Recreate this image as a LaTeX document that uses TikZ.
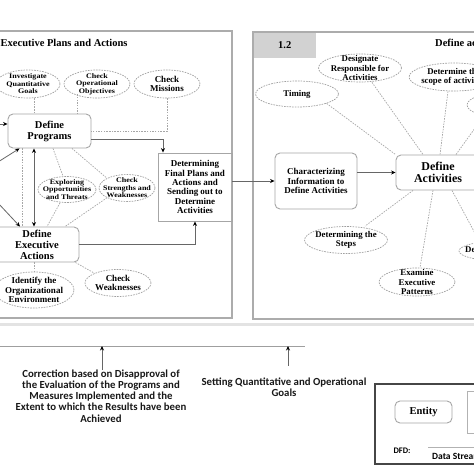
\documentclass[tikz,border=0pt]{standalone}
\usepackage{fontspec}
\setmainfont{Liberation Serif}
\newfontfamily\widefont{Liberation Serif}[FakeStretch=1.15]
\newfontfamily\carlito{Carlito}
\usetikzlibrary{shapes.geometric,arrows.meta,calc}
\newcommand{\myfs}[2]{\fontsize{#1}{#2}\selectfont}
\tikzset{
 frame/.style={draw=gray!65, line width=1.2pt},
 ell/.style={ellipse, draw=gray!75, dash pattern=on 1.6pt off 1.1pt, line width=0.7pt, inner sep=0pt},
 tx/.style={align=center, inner sep=0pt, text=black},
 ltxt/.style={tx, font=\widefont\bfseries\myfs{7}{7.6}},
 mtxt/.style={tx, font=\bfseries\myfs{9}{9.5}},
 rtxt/.style={tx, font=\bfseries\myfs{8.8}{9.3}},
 rbox/.style={draw=gray!70, rounded corners=5pt, line width=0.9pt, align=center, inner sep=0pt},
 sbox/.style={draw=gray!70, line width=0.9pt, align=center, inner sep=0pt},
 conn/.style={draw=gray!80!black, line width=0.8pt},
 arr/.style={conn, -{Stealth[length=4.5pt,width=4pt,color=black]}},
 darr/.style={conn, {Stealth[length=4.5pt,width=4pt,color=black]}-{Stealth[length=4.5pt,width=4pt,color=black]}},
 dsh/.style={draw=gray!70, dash pattern=on 1.5pt off 1.2pt, line width=0.7pt},
 sfb/.style={font=\carlito\bfseries\myfs{10.8}{11.2}, align=center, inner sep=0pt, text=black!90},
 ttl/.style={font=\bfseries\myfs{10.5}{12}, inner sep=0pt, text=black},
}
\begin{document}
\begin{tikzpicture}[x=1pt,y=-1pt]
\useasboundingbox (0,0) rectangle (474,474);
\fill[white] (0,0) rectangle (474,474);

% ---------------- left panel ----------------
\draw[frame] (-2,31) rectangle (232,318);
\node[ttl, anchor=west] (t1) at (0.5,43) {Executive Plans and Actions};

\node[ell, minimum width=64, minimum height=28] (iqg) at (28,84) {};
\node[ltxt] (iqgt) at (iqg) {Investigate\\Quantitative\\Goals};
\node[ell, minimum width=66, minimum height=28] (coo) at (97,84) {};
\node[ltxt] (coot) at (coo) {Check\\Operational\\Objectives};
\node[ell, minimum width=66, minimum height=28] (cm) at (167,84) {};
\node[mtxt] (cmt) at (cm) {Check\\Missions};

\node[rbox, minimum width=83, minimum height=34, font=\bfseries\myfs{10.5}{11}] (prog) at (49.5,131) {Define\\Programs};

\node[ell, minimum width=58, minimum height=26] (exp) at (67,189.5) {};
\node[ltxt] (expt) at (exp) {Exploring\\Opportunities\\and Threats};
\node[ell, minimum width=56, minimum height=27] (csw) at (127,188) {};
\node[ltxt] (cswt) at (csw) {Check\\Strengths and\\Weaknesses};

\node[rbox, minimum width=84, minimum height=35, font=\bfseries\myfs{10.5}{11}] (exec) at (37,244.5) {Define\\Executive\\Actions};

\node[ell, minimum width=80, minimum height=36] (ident) at (34,290) {};
\node[mtxt] (identt) at (ident) {Identify the\\Organizational\\Environment};
\node[ell, minimum width=66, minimum height=27] (cw) at (118,283) {};
\node[mtxt] (cwt) at (cw) {Check\\Weaknesses};

\node[sbox, minimum width=74, minimum height=68, font=\bfseries\myfs{9}{9.3}] (fin) at (195,187) {Determining\\Final Plans and\\Actions and\\Sending out to\\Determine\\Activities};

% left connectors
\draw[dsh] ([xshift=6pt]iqg.south) -- ([xshift=6pt]iqg.south |- prog.north);
\draw[dsh] ([xshift=4pt]coo.south west) -- ([xshift=4pt]coo.south west |- prog.north);
\draw[dsh] (cm.south) |- (prog.east);
\draw[arr] ([yshift=-8pt]prog.east) -| ([xshift=-32pt]fin.north);
\draw[arr] (exec.east) -| (fin.south);
\draw[darr] ([xshift=-15.5pt]prog.south) -- ([xshift=-15.5pt]prog.south |- exec.north);
\draw[dsh] ([xshift=-27pt]prog.south) -- ([xshift=-27pt]prog.south |- exec.north);
\coordinate (l0) at (-2,124);
\coordinate (l1) at (-2,162);
\coordinate (l2) at (-2,203);
\draw[arr] (l0) -- (prog.west |- l0);
\draw[arr] (l1) -- ([xshift=-30pt]prog.south);
\draw[arr] (l2) -- ([xshift=-17pt]exec.north);
\draw[dsh] ([xshift=3.5pt]prog.south) -- ([xshift=-4pt]exp.north);
\draw[dsh] ([xshift=22.5pt]prog.south) -- (csw.north west);
\draw[dsh] ([xshift=-7pt]exp.south) -- ([xshift=10pt]exec.north);
\draw[dsh] (csw.south west) -- ([xshift=28pt]exec.north);
\draw[dsh] (ident.north |- exec.south) -- (ident.north);
\draw[dsh] ([xshift=-4pt]exec.south east) -- (cw.north west);

% ---------------- right panel ----------------
\draw[frame] (253,32) rectangle (482,319);
\node[fill=gray!35, minimum width=62, minimum height=25, anchor=north west, inner sep=0pt, font=\bfseries\myfs{10.5}{12}] (hdr) at (253.6,32.6) {1.2};
\node[ttl, anchor=west] (t2) at (435,43) {Define activities};

\node[ell, minimum width=83, minimum height=26] (tim) at (297,94) {};
\node[rtxt] (timt) at (tim) {Timing};
\node[ell, minimum width=83, minimum height=28] (des) at (360,68) {};
\node[rtxt] (dest) at (des) {Designate\\Responsible for\\Activities};
\node[ell, minimum width=90, minimum height=28] (sco) at (454,77) {};
\node[rtxt] (scot) at (sco) {Determine the\\scope of activities};
\node[ell, minimum width=80, minimum height=26] (r1) at (507,105) {};

\node[rbox, minimum width=82, minimum height=56, font=\bfseries\myfs{9}{9.3}] (char) at (316,181) {Characterizing\\Information to\\Define Activities};
\node[rbox, minimum width=84, minimum height=35, font=\bfseries\myfs{12}{12.5}] (da) at (438,172.5) {Define\\Activities};

\node[ell, minimum width=83, minimum height=27] (stp) at (346,240) {};
\node[rtxt] (stpt) at (stp) {Determining the\\Steps};
\node[ell, minimum width=76, minimum height=28] (exa) at (417,282) {};
\node[rtxt] (exat) at (exa) {Examine\\Executive\\Patterns};
\node[ell, minimum width=84, minimum height=20] (r2) at (501,251) {};
\node[rtxt, anchor=west] (r2t) at (465,249) {Determine};

% right connectors
\draw[arr] (fin.east |- char.west) -- (char.west);
\draw[arr] (char.east |- da.west) -- (da.west);
\draw[dsh] (tim.south east) -- (da.north west);
\draw[dsh] ([xshift=12pt]des.south) -- ([xshift=-15pt]da.north);
\draw[dsh] ([xshift=-6pt]sco.south) -- ([xshift=2pt]da.north);
\draw[dsh] ([xshift=18pt]da.north) -- ([xshift=-25pt]r1.south);
\draw[dsh] ([xshift=-25pt]da.south) -- ([xshift=19pt]stp.north);
\draw[dsh] ([xshift=-5pt]da.south) -- ([xshift=3pt]exa.north);
\draw[dsh] ([xshift=14pt]da.south) -- ([xshift=-22pt]r2.north);

% ---------------- bottom ----------------
\draw[gray!22, line width=2.2pt] (-2,324.5) -- (482,324.5);
\coordinate (h1) at (-2,346);
\coordinate (h2) at (305,346);
\draw[conn, draw=gray!75] (h1) -- (h2);
\node[sfb, anchor=north] (corr) at (101,369.5) {Correction based on Disapproval of\\the Evaluation of the Programs and\\Measures Implemented and the\\Extent to which the Results have been\\Achieved};
\node[sfb, anchor=north] (set) at (284,377.5) {Setting Quantitative and Operational\\Goals};
\draw[arr] ([xshift=1pt]corr.north) -- ([xshift=1pt]corr.north |- h1);
\draw[arr] ([xshift=4pt,yshift=12pt]set.north) -- ([xshift=4pt]set.north |- h1);

% legend
\draw[draw=gray!55!black, line width=2pt] (375,384) rectangle (484,464);
\node[rbox, minimum width=57, minimum height=22, font=\bfseries\myfs{10.5}{12}] (ent) at (423.5,412) {Entity};
\draw[draw=gray!60, line width=0.7pt] (467,391) rectangle (484,433);
\node[font=\carlito\bfseries\myfs{8.5}{10}, inner sep=0pt] (dfd) at (402,451) {DFD:};
\coordinate (ds1) at (428,447);
\coordinate (ds2) at (484,447);
\draw[gray!60, line width=0.7pt] (ds1) -- (ds2);
\node[anchor=west, font=\carlito\bfseries\myfs{9.5}{10}, inner sep=0pt] (dst) at (432,456) {Data Stream};
\end{tikzpicture}
\end{document}
